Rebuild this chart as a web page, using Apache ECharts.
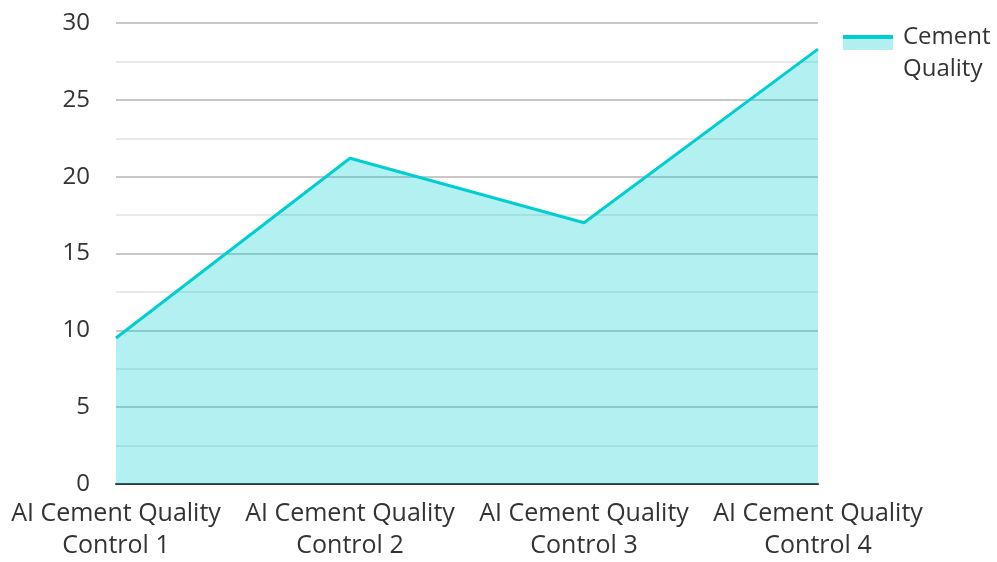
<!DOCTYPE html>
<html>
<head>
<meta charset="utf-8">
<script src="https://cdn.jsdelivr.net/npm/echarts@6/dist/echarts.min.js"></script>
<style>html,body{margin:0;padding:0;background:#fff;overflow:hidden}#c{width:997px;height:562px}</style>
</head>
<body>
<div id="c"></div>
<script>
var categories = ['AI Cement Quality\nControl 1', 'AI Cement Quality\nControl 2', 'AI Cement Quality\nControl 3', 'AI Cement Quality\nControl 4'];
var seriesName = 'Cement Quality';
var values = [9.5, 21.2, 17, 28.3];
var yTicks = [0, 5, 10, 15, 20, 25, 30];

var chart = echarts.init(document.getElementById('c'));
var font = '"Open Sans", "Noto Sans", sans-serif';
chart.setOption({
  animation: false,
  textStyle: { fontFamily: font },
  grid: { left: 116, right: 179, top: 23, bottom: 72, containLabel: false },
  legend: {
    show: true,
    orient: 'vertical',
    left: 838,
    top: 16,
    itemWidth: 50,
    itemHeight: 40,
    icon: 'rect',
    itemStyle: {
      color: {
        type: 'linear', x: 0, y: 0, x2: 0, y2: 1,
        colorStops: [
          { offset: 0, color: 'rgba(255,255,255,0)' },
          { offset: 0.05, color: 'rgba(255,255,255,0)' },
          { offset: 0.05, color: '#00CED1' },
          { offset: 0.15, color: '#00CED1' },
          { offset: 0.15, color: '#b2eff0' },
          { offset: 0.425, color: '#b2eff0' },
          { offset: 0.425, color: 'rgba(255,255,255,0)' },
          { offset: 1, color: 'rgba(255,255,255,0)' }
        ]
      },
      borderWidth: 0
    },
    lineStyle: { width: 0, opacity: 0 },
    textStyle: {
      fontFamily: font, fontSize: 24, color: '#333', lineHeight: 32,
      width: 95, overflow: 'break', padding: [0, 0, 0, 5]
    },
    data: [{ name: seriesName }]
  },
  xAxis: {
    type: 'category',
    data: categories,
    boundaryGap: false,
    axisLine: { show: true, lineStyle: { color: '#333', width: 2 } },
    axisTick: { show: false },
    axisLabel: { fontFamily: font, fontSize: 25, color: '#333', lineHeight: 32, margin: 14, interval: 0 },
    splitLine: { show: false }
  },
  yAxis: {
    type: 'value',
    min: yTicks[0],
    max: yTicks[yTicks.length - 1],
    interval: 5,
    axisLine: { show: false },
    axisTick: { show: false },
    axisLabel: { fontFamily: font, fontSize: 24, color: '#333', margin: 26 },
    splitLine: { show: true, lineStyle: { color: '#c8c8c8', width: 2 } },
    minorTick: { show: false, splitNumber: 2 },
    minorSplitLine: { show: true, lineStyle: { color: '#e8e8e8', width: 2 } }
  },
  series: [{
    name: seriesName,
    type: 'line',
    data: values,
    symbol: 'none',
    showSymbol: false,
    lineStyle: { color: '#00CED1', width: 3 },
    itemStyle: { color: '#00CED1' },
    areaStyle: { color: '#00CED1', opacity: 0.3 }
  }]
});
</script>
</body>
</html>
